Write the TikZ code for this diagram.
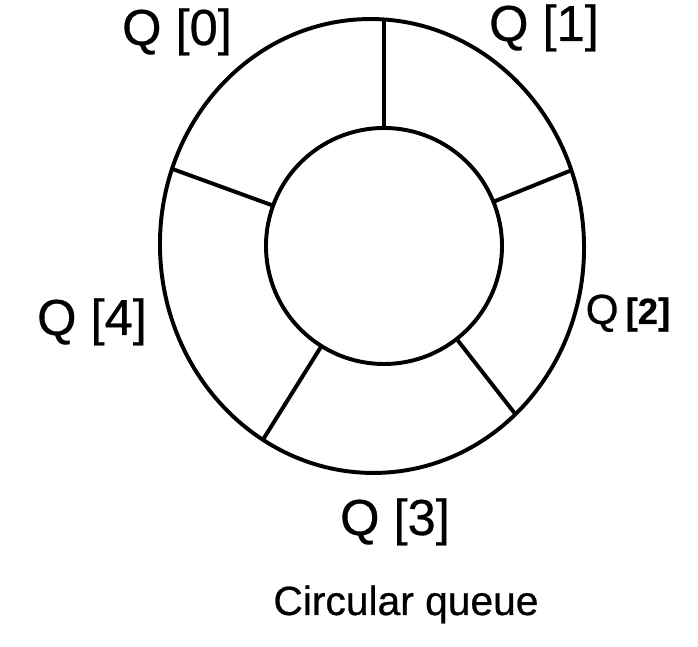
\documentclass[tikz,border=0pt]{standalone}
\usepackage{fontspec}
\setmainfont{Liberation Sans}
\usepackage{tikz}
\usetikzlibrary{calc,intersections}
\tikzset{ring/.style={line width=2.8pt},cell label/.style={font=\fontsize{36}{42}\selectfont\addfontfeature{FakeBold=0.6},anchor=base,inner sep=0pt},caption label/.style={font=\fontsize{29}{34}\selectfont\addfontfeature{FakeBold=0.6},anchor=base,inner sep=0pt}}

\begin{document}
\begin{tikzpicture}[x=0.25mm,y=0.25mm]
			\useasboundingbox (0,0) rectangle (698,647);
			\def\r{118}
			\coordinate (O) at (384,401);
			\coordinate (E) at (372,401);
			\draw[ring,name path=rim] (E) ellipse [x radius=212,y radius=227,rotate=3];
			\draw[ring] (O) circle [radius=\r];
			\foreach \a in {90,22,-52,-122,160}{
				\path[name path=ray] (O) -- ++(\a:320);
				\draw[ring,name intersections={of=rim and ray,by=X}] (O) ++(\a:\r) -- (X);
			}
			\node[cell label] (q0) at (177,602) {Q [0]};
			\node[cell label] (q1) at (544,606) {Q [1]};
			\node[cell label] (q2) at (628,323) {\fontsize{30}{34}\selectfont Q\,{\bfseries\fontsize{26}{30}\selectfont[2]}};
			\node[cell label] (q3) at (395,112) {Q [3]};
			\node[cell label] (q4) at (92,312) {Q [4]};
			\node[caption label] (cap) at (406,32) {Circular queue};
		\end{tikzpicture}
\end{document}
